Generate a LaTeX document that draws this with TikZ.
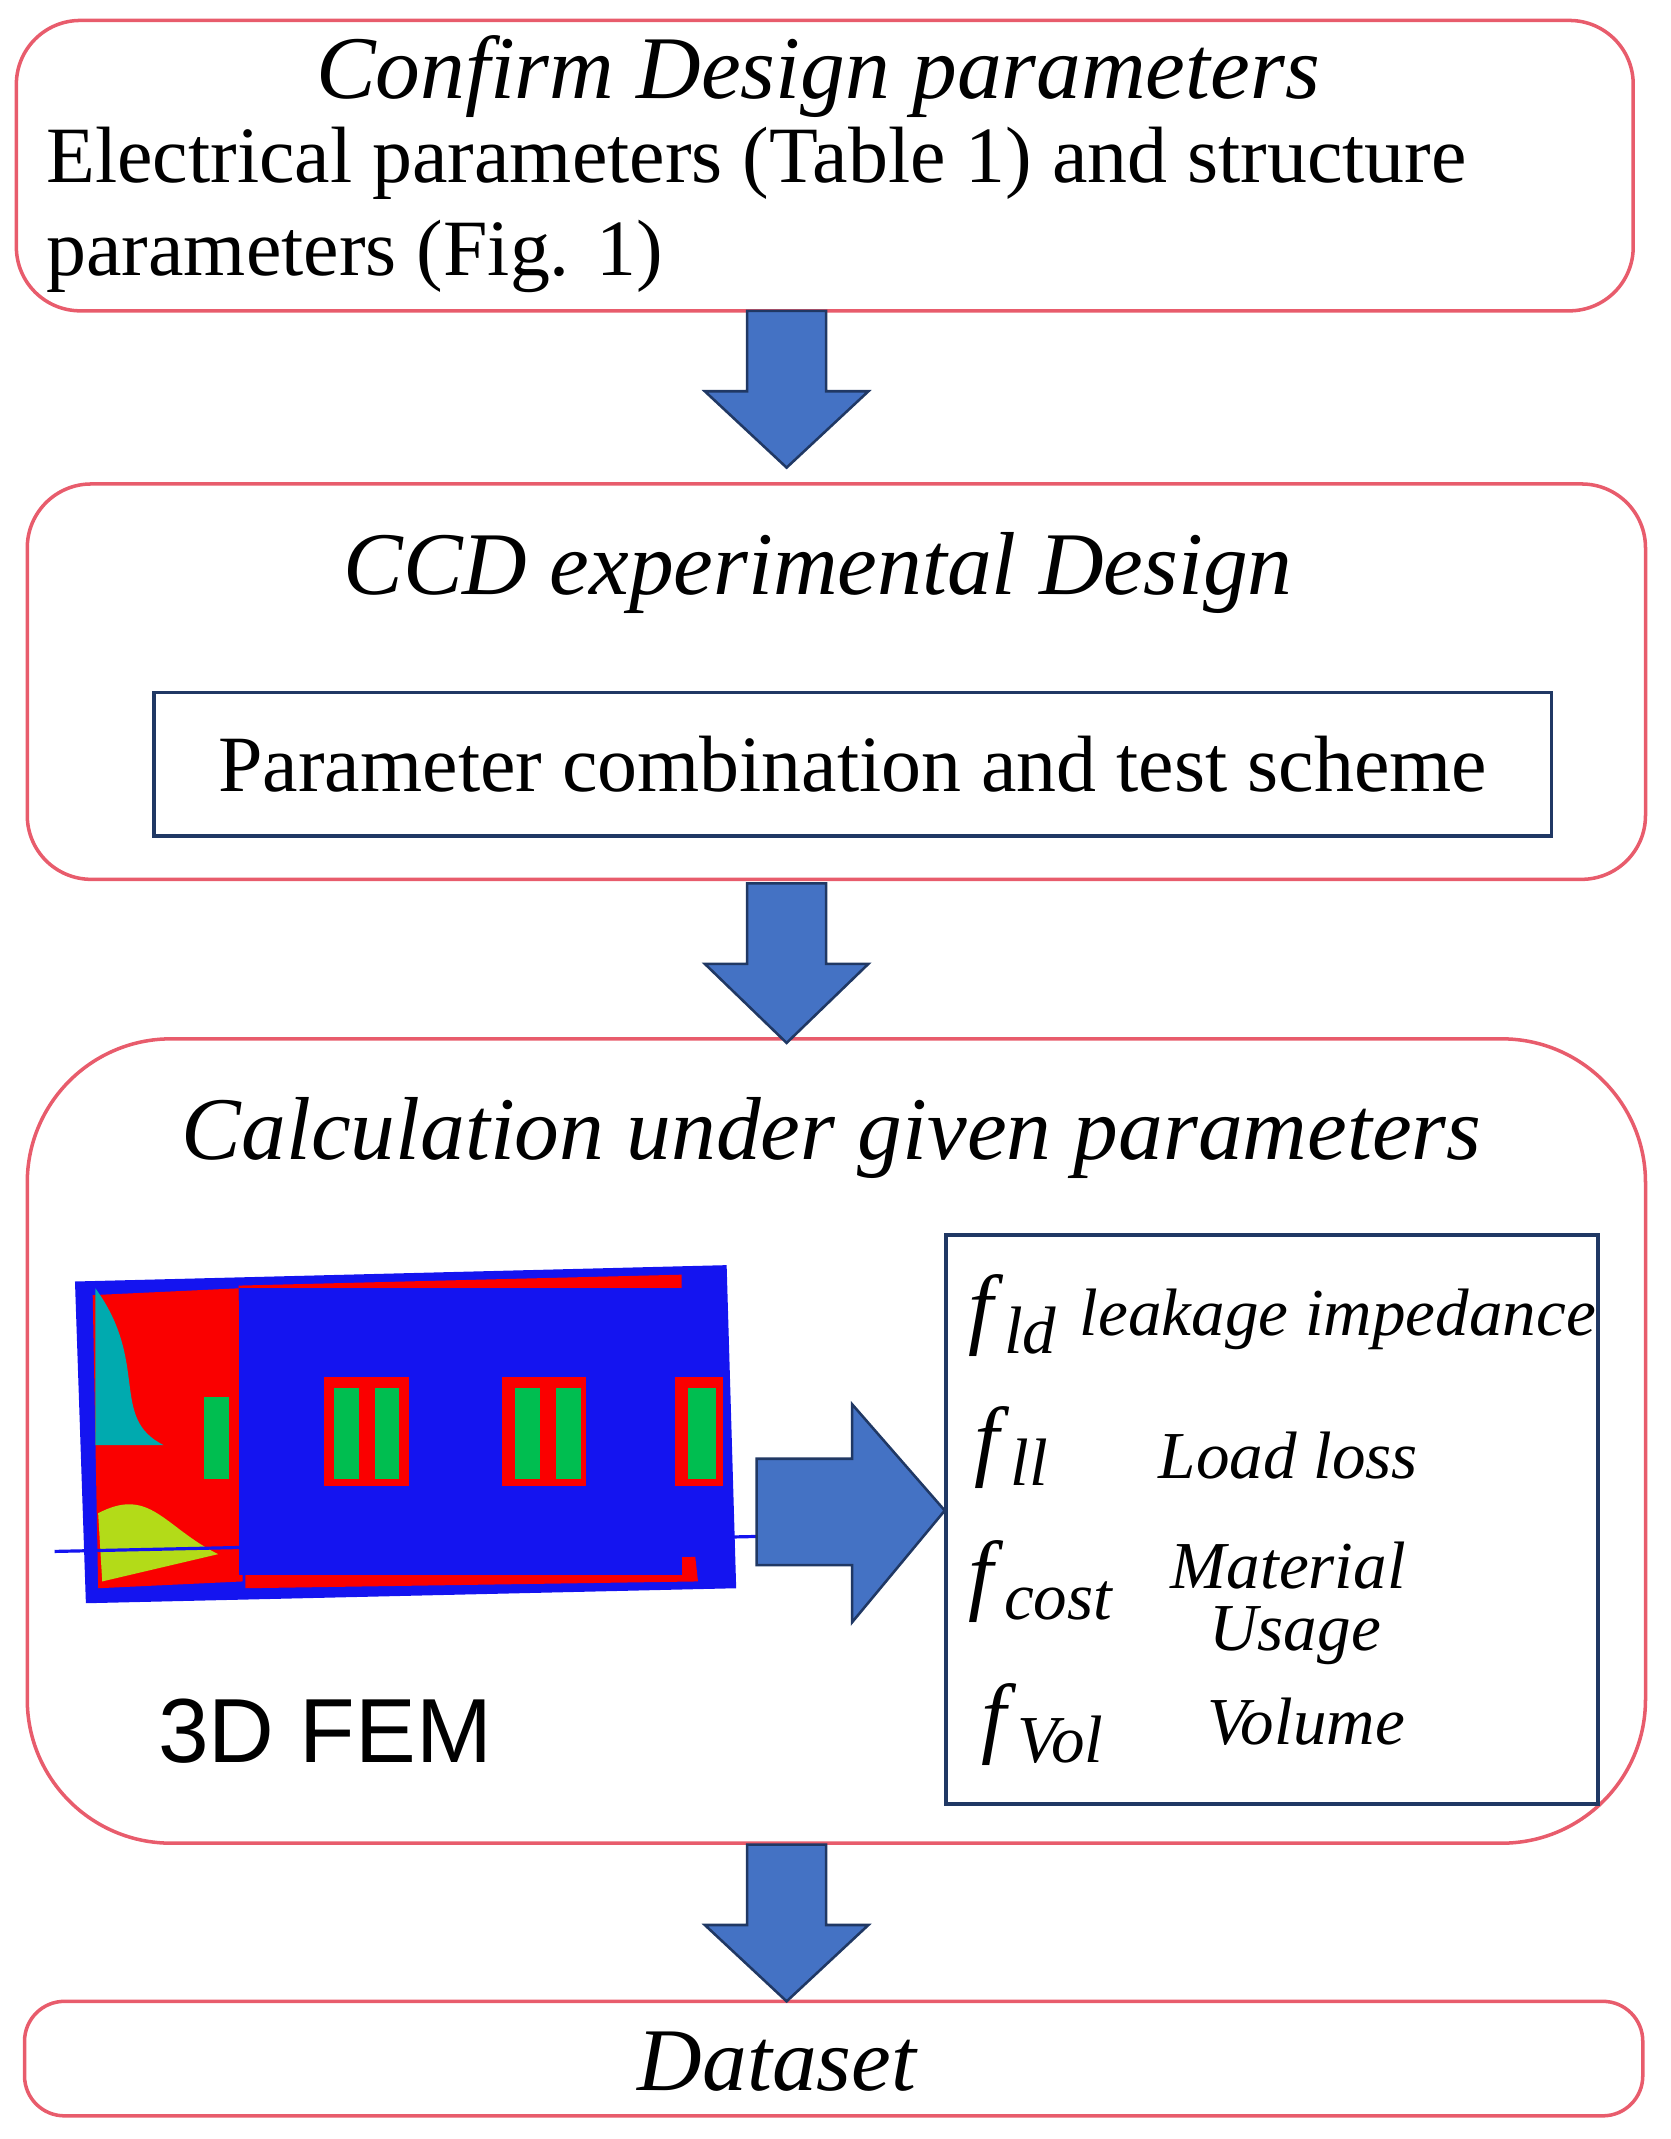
\documentclass[tikz,border=0pt]{standalone}
\usepackage{fontspec}
\setmainfont{Liberation Serif}
\newfontfamily\fembold{Liberation Sans}
\usetikzlibrary{calc}
\definecolor{red1}{RGB}{232, 92, 108}
\definecolor{blue1}{RGB}{68, 114, 196}
\definecolor{navy1}{RGB}{32, 56, 100}
\definecolor{femblue}{RGB}{20, 20, 240}
\definecolor{femred}{RGB}{250, 0, 0}
\definecolor{femgreen}{RGB}{0, 190, 80}
\newcommand{\ttl}{\fontsize{56}{62}\selectfont\itshape}
\newcommand{\bdy}{\fontsize{50}{58}\selectfont}
\newcommand{\outs}{\fontsize{42}{46}\selectfont\itshape}
\newcommand{\fsub}[1]{{\fontsize{56}{60}\selectfont f}\,\raisebox{-10pt}{#1}}
\tikzset{
  stage/.style={draw=red1, line width=2.2pt, rounded corners=40},
  inner/.style={draw=navy1, line width=2.4pt},
  fat arrow/.style={fill=blue1, draw=navy1, line width=1.6pt}
}

\begin{document}
\begin{tikzpicture}[x=0.03cm, y=-0.03cm]
  \useasboundingbox (0,0) rectangle (1225,1569);

  % stage boxes
  \node[stage, minimum width=1186*0.03cm, minimum height=213*0.03cm] (s1) at (605,121.5) {};
  \node[stage, minimum width=1187*0.03cm, minimum height=290*0.03cm] (s2) at (613.5,500) {};
  \node[stage, rounded corners=90, minimum width=1187*0.03cm, minimum height=590*0.03cm] (s3) at (613.5,1057) {};
  \node[stage, rounded corners=25, minimum width=1187*0.03cm, minimum height=84*0.03cm] (s4) at (611.5,1510) {};

  % texts of the first box
  \node[font=\ttl] (t1) at (600,56) {Confirm Design parameters};
  \node[font=\bdy, anchor=west] (e1) at (30,120) {Electrical parameters (Table 1) and structure};
  \node[font=\bdy, anchor=west] (e2) at (30,188) {parameters (Fig. 1)};

  \node[font=\ttl] (t2) at (600,420) {CCD experimental Design};
  \node[inner, minimum width=1025*0.03cm, minimum height=105*0.03cm, font=\bdy] (pc) at (625.5,560.5) {Parameter combination and test scheme};

  \node[font=\ttl] (t3) at (610,835) {Calculation under given parameters};
  \node[font=\ttl] (t4) at (570,1512) {Dataset};

  % down arrows
  \foreach \ya/\yb in {228/343, 648/765, 1353/1468}
    \draw[fat arrow] (548,\ya) -- (606,\ya) -- (606,\ya+59) -- (637,\ya+59) -- (577,\yb)
      -- (517,\ya+59) -- (548,\ya+59) -- cycle;

  % FEM picture
  \fill[femblue] (55,940) -- (533,928) -- (540,1165) -- (63,1176) -- cycle;
  \fill[femred] (68,950) -- (175,945) -- (178,1160) -- (72,1165) -- cycle;
  \fill[femred] (175,943) -- (500,935) -- (500,950) -- (175,955) -- cycle;
  \fill[femred] (180,1150) -- (510,1142) -- (512,1160) -- (180,1165) -- cycle;
  \fill[cyan!60!green] (70,945) .. controls (110,1000) and (80,1040) .. (120,1060) -- (70,1060) -- cycle;
  \fill[yellow!70!green] (72,1110) .. controls (110,1090) and (120,1120) .. (160,1140) -- (75,1160) -- cycle;
  \fill[femblue] (175,945) rectangle (500,1155);
  \foreach \xa in {238, 368}
    \fill[femred] (\xa,1010) rectangle (\xa+62,1090);
  \foreach \xa in {245, 275, 378, 408}
    \fill[femgreen] (\xa,1018) rectangle (\xa+18,1085);
  \fill[femred] (495,1010) rectangle (530,1090);
  \fill[femgreen] (505,1018) rectangle (525,1085);
  \fill[femred] (145,1015) rectangle (172,1090);
  \fill[femgreen] (150,1025) rectangle (168,1085);
  \draw[femblue, line width=2pt] (40,1138) -- (556,1127);
  \node[font=\fembold\fontsize{57}{62}\selectfont, anchor=west] (fem) at (112,1270) {3D FEM};

  % outputs box
  \node[inner, minimum width=478*0.03cm, minimum height=417*0.03cm] (ob) at (933,1114.5) {};
  \coordinate (ar) at (693,1108);
  \draw[fat arrow] (555,1070) -- (625,1070) -- (625,1030) -- (ar) -- (625,1190)
    -- (625,1148) -- (555,1148) -- cycle;

  \node[font=\outs, anchor=west] (f1) at (706,965) {\fsub{ld}};
  \node[font=\outs, anchor=west] (o1) at (788,968) {leakage impedance};
  \node[font=\outs, anchor=west] (f2) at (711,1062) {\fsub{ll}};
  \node[font=\outs] (o2) at (945,1068) {Load loss};
  \node[font=\outs, anchor=west] (f3) at (706,1160) {\fsub{cost}};
  \node[font=\outs] (o3) at (945,1148) {Material};
  \node[font=\outs] (o4) at (950,1200) {Usage};
  \node[font=\outs, anchor=west] (f4) at (716,1265) {\fsub{Vol}};
  \node[font=\outs] (o5) at (958,1263) {Volume};
\end{tikzpicture}
\end{document}
